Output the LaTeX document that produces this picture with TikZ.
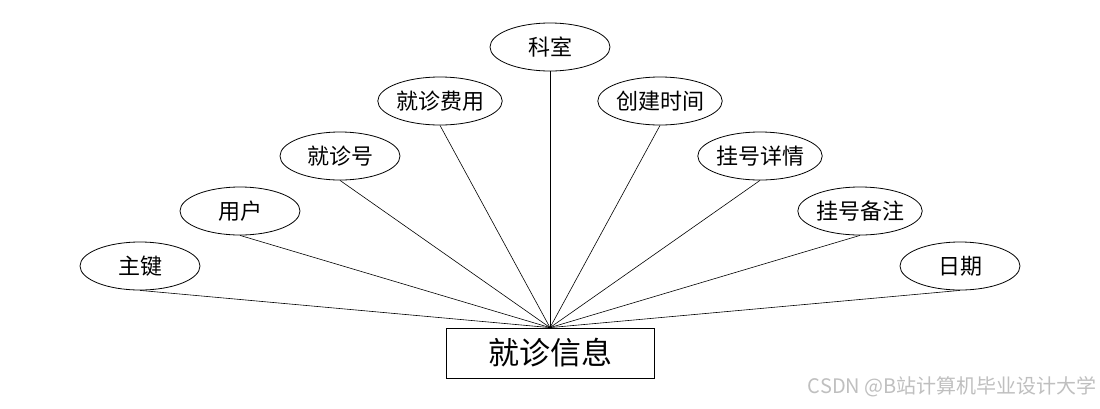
\documentclass[tikz,border=0pt]{standalone}
\usepackage{fontspec}
\setmainfont{Noto Sans CJK SC}
\usetikzlibrary{shapes.geometric}
\begin{document}
\begin{tikzpicture}[x=1pt,y=-1pt,
  attr/.style={draw,ellipse,line width=0.8pt,minimum width=120pt,minimum height=48pt,inner sep=0pt,font=\fontsize{22}{26}\selectfont},
  ent/.style={draw,rectangle,line width=0.8pt,minimum width=208pt,minimum height=50pt,inner sep=0pt,font=\fontsize{31}{36}\selectfont},
  conn/.style={line width=0.6pt}]
\useasboundingbox (0,0) rectangle (1100,408);
\node[ent] (r) at (550,353) {就诊信息};
\node[attr] (a1) at (140,266) {主键};
\node[attr] (a2) at (240,211) {用户};
\node[attr] (a3) at (340,156) {就诊号};
\node[attr] (a4) at (440,101) {就诊费用};
\node[attr] (a5) at (550,47) {科室};
\node[attr] (a6) at (660,101) {创建时间};
\node[attr] (a7) at (760,156) {挂号详情};
\node[attr] (a8) at (860,211) {挂号备注};
\node[attr] (a9) at (960,266) {日期};
\foreach \i in {1,...,9} \draw[conn] (a\i.south) -- (r.north);
\node[anchor=east,text=black!25,font=\fontsize{20}{22}\selectfont,inner sep=0pt] (wm) at (1097,387) {CSDN @B站计算机毕业设计大学};
\end{tikzpicture}
\end{document}
